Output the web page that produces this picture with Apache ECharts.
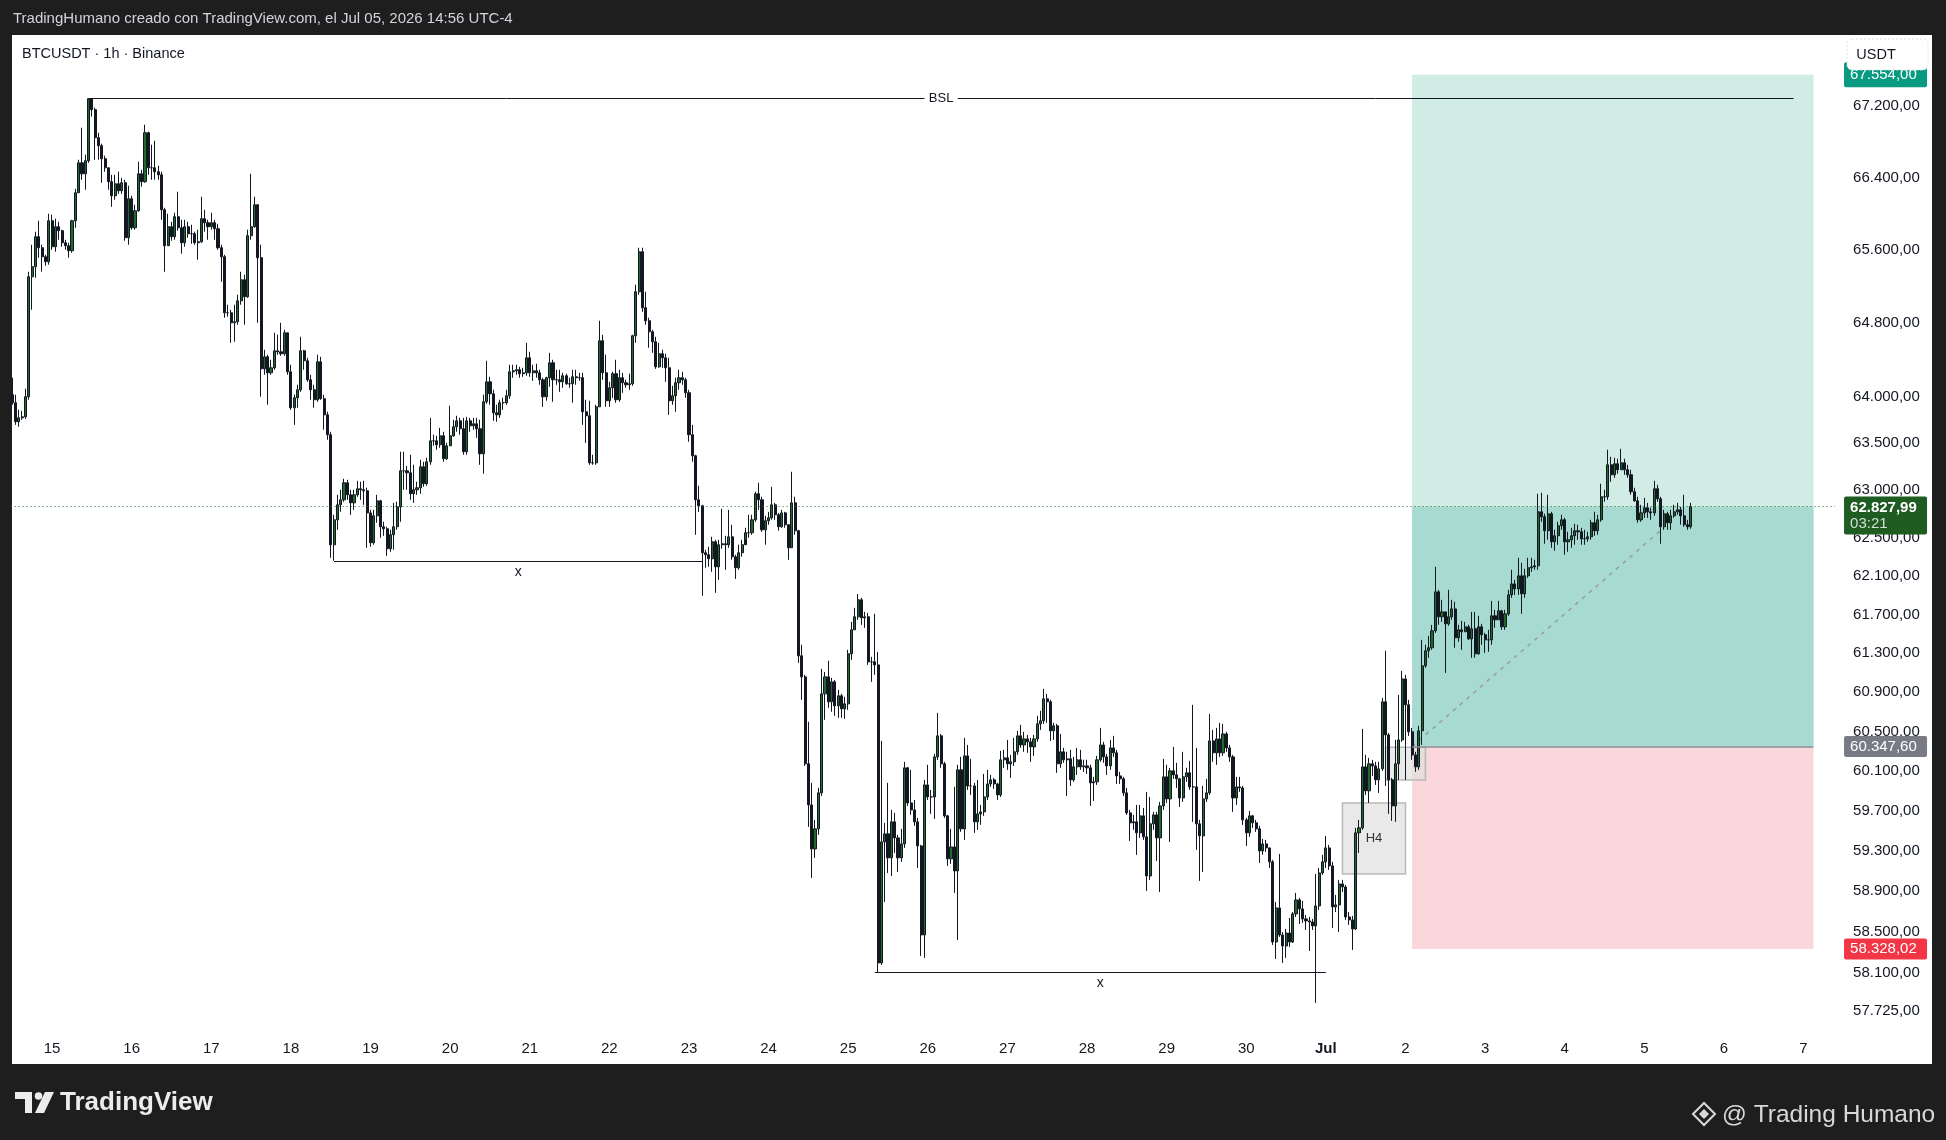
<!DOCTYPE html>
<html><head><meta charset="utf-8">
<script src="https://cdn.jsdelivr.net/npm/echarts@6/dist/echarts.min.js"></script>
<style>html,body{margin:0;padding:0;background:#1e1e1e;overflow:hidden}#c{width:1946px;height:1140px}</style>
</head><body><div id="c"></div><script>
// ---- data (BTCUSDT 1h, Binance) ----
const firstOpen = 64020;
const closeData = [
63934,63730,63772,63783,63998,65301,65411,65742,65620,65521,
65466,65918,65631,65852,65808,65675,65642,65587,65918,66229,
66563,66440,66586,67283,67159,66844,66754,66608,66507,66352,
66195,66329,66251,66340,65731,66162,65841,66029,66440,66352,
66900,66507,66507,66463,66429,66040,65642,65852,65742,65963,
65841,65675,65852,65775,65775,65675,65686,65941,65896,65852,
65896,65830,65620,65521,64907,64907,64798,64809,65038,65268,
65082,65753,65852,66096,65510,64299,64429,64256,64310,64494,
64483,64462,64689,64267,63880,63987,64073,64494,64386,64181,
64073,63966,64375,63977,63804,63591,62426,62689,62847,62900,
63080,62953,62868,62953,63017,63006,62995,62762,62448,62731,
62889,62616,62595,62385,62532,62616,62826,63207,63207,63186,
62964,63006,63027,63250,63070,63303,63526,63526,63484,63580,
63335,63473,63580,63676,63740,63655,63410,63740,63687,63708,
63655,63388,63944,64159,64030,63826,63804,63934,63934,64009,
64267,64278,64289,64246,64256,64418,64256,64278,64256,64181,
63998,64203,64364,64181,64181,64159,64224,64138,64138,64213,
64203,64203,63837,63794,63292,63292,63890,64603,64256,63955,
64095,64246,63966,64203,64149,64127,64138,64657,65137,65576,
64962,64820,64700,64592,64321,64462,64418,64310,63955,64009,
64149,64203,
64181,64041,63591,63367,62900,62837,62343,62322,
62280,62458,62196,62427,62437,62427,62510,62301,62186,62343,
62427,62553,62553,62689,62964,62900,62584,62679,62710,62847,
62742,62616,62762,62637,62395,62868,62574,61273,61057,60172,
59758,59318,59518,59879,60883,61057,60802,61006,60761,60863,
60730,60781,61294,61541,61676,61852,61665,61676,61211,61211,
61180,58193,59388,59468,59229,59588,59428,59229,59368,60131,
59778,59708,59588,59348,58467,59959,59838,59838,60242,60455,
60172,59648,59219,59338,59099,60111,59518,60252,59949,59949,
59588,59668,59688,59838,59969,60010,59969,59858,60212,60232,
60172,60192,60293,60455,
60363,60424,60394,60343,60424,60577,
60608,60832,60802,60506,60557,60172,60293,60212,60222,60010,
60141,60212,60141,60151,60131,59980,59990,60212,60363,60242,
60151,60333,60283,60050,60020,59879,59678,59578,59588,59478,
59648,59438,59049,59568,59658,59428,59748,60040,59818,60101,
60060,60020,59828,60040,60081,59939,59939,59568,59448,59818,
59879,60404,60283,60424,60283,60475,60333,60242,59828,59939,
59929,59608,59478,59648,59578,59518,59298,59368,59328,59189,
58398,58733,58467,58359,58486,58398,58674,58812,58723,58625,
58605,58595,58556,58753,59079,59189,59328,59149,58743,58763,
58970,58940,58644,58615,58526,
59478,59528,60141,59899,60172,
60151,60010,60121,60802,60465,60010,59748,60172,60414,61036,
60771,60496,60262,60141,60506,61170,61325,61356,61531,61935,
61676,61727,61603,61676,61758,61459,61541,61521,61572,61448,
61552,61294,61572,61490,61438,61438,61686,61645,61738,61572,
61707,61904,62018,61966,62102,61914,62102,62186,62196,62207,
62773,62721,62574,62752,62458,62521,62626,62689,62458,62479,
62521,62574,62563,62490,62490,62510,62658,62574,62689,62932,
62932,63271,63165,63282,63218,63292,63218,63165,62985,62889,
62689,62762,62815,62773,62762,63017,62911,62616,62752,62658,
62731,62773,62794,62731,62637,62616,62827.99];
const highData = [
64203,64020,63858,63847,64084,65356,65653,65797,65918,65653,
65543,65996,65985,65941,65907,65819,65708,65675,65929,66273,
66597,66956,66653,67290,67270,67182,66900,66776,66642,66507,
66429,66429,66463,66395,66374,66307,66195,66096,66575,66485,
66990,66912,66765,66810,66530,66463,66062,65996,65907,66007,
66240,65929,65929,65907,65874,65797,65819,66184,66040,65929,
66007,65929,65885,65653,65543,64995,64940,64995,65105,65356,
65323,65819,66440,66184,66096,65653,64505,64451,64397,64689,
64668,64798,64722,64689,64343,64020,64127,64646,64505,64418,
64235,64127,64451,64429,64020,63837,63623,62742,62953,63006,
63123,63112,63006,63006,63101,63091,63101,63028,62794,62794,
62953,62900,62668,62616,62584,62868,62879,63410,63410,63260,
63378,63271,63091,63324,63303,63346,63772,63591,63580,63665,
63623,63505,63901,63751,63794,63772,63772,63783,63772,63772,
63772,63751,64020,64386,64213,64073,63912,63966,63987,64073,
64343,64343,64343,64321,64310,64581,64483,64343,64354,64289,
64203,64213,64472,64397,64289,64289,64256,64246,64203,64289,
64289,64256,64256,63966,63955,63378,63912,64820,64668,64451,
64159,64267,64397,64289,64256,64181,64246,64668,65214,65620,
65620,65137,64853,64722,64646,64581,64505,64462,64418,64116,
64203,64289,
64267,64203,64073,63697,63378,63048,62847,62374,
62406,62510,62479,62479,62805,62521,62794,62637,62322,62427,
62479,62605,62742,62742,62985,63080,62932,62731,62773,63038,
62868,62762,62794,62773,62637,63197,62932,62584,61387,61078,
60598,59980,59608,59930,61139,61108,61222,61047,61026,60924,
60883,60853,61335,61624,61769,61914,61873,61727,61717,61263,
61707,61314,60404,59578,59980,59708,59678,59458,59518,60192,
60141,60111,59808,59628,59358,60010,60162,59909,60272,60689,
60475,60192,59658,59518,59939,60162,60242,60435,60363,60222,
59980,60010,59758,60070,60111,60060,60030,59980,60303,60313,
60414,60262,60435,60506,
60567,60496,60465,60435,60465,60659,
60710,60934,60883,60822,60587,60577,60475,60333,60293,60313,
60242,60333,60313,60212,60212,60162,60040,60252,60536,60394,
60272,60414,60455,60313,60091,60040,59930,59708,59658,59758,
59758,59728,59889,59838,59688,59688,59788,60222,60162,60131,
60343,60182,60030,60293,60131,60202,60771,60333,59608,59949,
60020,60679,60516,60536,60587,60577,60496,60363,60262,60040,
60040,59949,59628,59698,59658,59608,59548,59418,59408,59328,
59209,58792,59268,58496,58526,58634,58693,58881,58832,58802,
58664,58644,58625,59069,59129,59259,59448,59358,59189,58861,
59010,59010,58960,58693,58654,
59528,59608,60526,60262,60232,
60212,60192,60192,60842,61325,60485,60030,60414,60873,61119,
61078,60822,60536,60293,60557,61438,61387,61479,61593,62196,
61956,61852,61727,61956,61852,61831,61593,61634,61624,61593,
61727,61727,61686,61603,61510,61541,61841,61748,61841,61748,
61748,61956,62165,62060,62290,62238,62175,62290,62290,62269,
62964,62974,62752,62953,62773,62584,62668,62742,62710,62563,
62605,62647,62637,62605,62584,62563,62689,62773,62742,63070,
63006,63431,63356,63346,63335,63441,63335,63271,63218,63027,
62932,62847,62921,62868,62815,63101,63059,62932,62794,62773,
62794,62847,62868,62826,62953,62689,62868];
const lowData = [
63912,63697,63676,63751,63761,63966,64940,65290,65510,65356,
65422,65433,65598,65576,65708,65631,65598,65510,65565,65841,
66229,66374,66262,66563,67081,66597,66597,66340,66463,66262,
66073,66151,66217,66217,65697,65653,65819,65819,66018,66296,
66340,66429,66374,66374,66374,65929,65356,65642,65697,65708,
65808,65554,65631,65731,65664,65653,65488,65675,65797,65708,
65819,65708,65598,65246,64853,64864,64581,64592,64777,64995,
64777,65071,65708,65841,64798,63998,64235,63912,64235,64289,
64451,64440,64440,64235,63858,63697,63880,64051,64289,64159,
63966,63880,63944,63966,63644,63537,62290,62259,62584,62773,
62879,62900,62741,62794,62932,62900,62847,62395,62406,62427,
62658,62500,62521,62311,62353,62374,62584,62668,63006,63006,
62900,62868,62953,62964,63038,63048,63271,63473,63431,63452,
63303,63324,63537,63569,63623,63591,63378,63378,63623,63644,
63558,63271,63176,63923,63912,63740,63730,63772,63858,63912,
63977,64203,64235,64203,64213,64224,64213,64170,64203,64127,
63890,63955,64105,63944,64127,64051,64095,64127,64095,63934,
64127,64170,63697,63505,63271,63271,63271,63890,64181,63890,
63890,63987,63934,63944,64041,64095,64073,64116,64581,65105,
64918,64777,64527,64472,64299,64310,64310,64159,63804,63912,
63837,64073,
64127,63987,63516,63303,62532,62773,61894,62186,
62196,62144,61925,62060,62385,62165,62395,62269,62070,62165,
62301,62479,62500,62532,62668,62794,62563,62427,62637,62689,
62689,62574,62605,62605,62269,62395,62532,61201,60822,60151,
59538,59030,59229,59458,59848,60618,60740,60700,60659,60638,
60638,60628,60720,61232,61541,61645,61593,61562,61180,61006,
61078,58105,58173,58792,59079,59049,59278,59089,59189,59328,
59748,59658,59548,59129,58261,58242,59808,59668,59618,60212,
60131,59628,59149,59169,58881,58418,59488,59408,59909,59858,
59478,59508,59558,59648,59808,59939,59919,59808,59838,60131,
60111,60030,60151,60262,
60333,60293,60283,60192,60252,60394,
60516,60577,60587,60404,60414,60081,60131,60182,59848,59949,
59990,60060,60111,60091,60070,59748,59798,59959,60192,60182,
60060,60111,60242,59969,59969,59848,59658,59398,59508,59259,
59428,59408,58901,59010,59508,59199,58891,59708,59778,59388,
60020,59929,59738,59788,59990,59909,59588,59308,59000,59089,
59788,59858,60192,60162,60242,60252,60293,60192,59688,59758,
59889,59558,59348,59438,59528,59488,59179,59259,59288,59129,
58369,58232,58447,58193,58242,58349,58388,58644,58575,58585,
58516,58310,58516,57803,58713,59059,59129,59109,58536,58693,
58497,58891,58615,58566,58320,
58516,59278,59508,59858,59778,
60050,59959,59879,60101,59949,59668,59598,59588,60010,60394,
60010,60455,60212,60091,60111,60363,61150,61253,61335,61510,
61593,61624,61098,61583,61645,61356,61417,61335,61521,61438,
61253,61253,61284,61387,61304,61315,61387,61562,61645,61541,
61541,61686,61873,61904,61904,61707,61873,62081,62144,62165,
62165,62668,62437,62479,62395,62364,62427,62584,62322,62353,
62395,62427,62479,62427,62427,62458,62479,62521,62532,62668,
62879,62900,63091,63133,63176,63218,63165,63133,62953,62879,
62658,62668,62710,62710,62689,62731,62879,62437,62584,62584,
62584,62710,62742,62637,62616,62584,62595];
const dayLabels = ['15','16','17','18','19','20','21','22','23','24','25','26','27','28','29','30','Jul','2','3','4','5','6','7'];
const priceTicks = [67200,66400,65600,64800,64000,63500,63000,62500,62100,61700,61300,60900,60500,60100,59700,59300,58900,58500,58100,57725];
const lastPrice = 62827.99, entryPrice = 60347.60, stopPrice = 58328.02, targetPrice = 67554.00;
const countdown = '03:21';
const bslPrice = 67290, sweep1 = 62257, sweep2 = 58104;
const bslLeft = [23, 275], bslRight = [285, 537], bslLabelAt = 280;
const sweep1Range = [97, 208], sweep2Range = [260, 396];
const posRange = [422, 543];
const h4Range = [401, 420], h4Prices = [59777, 59069];
const entryZoneRange = [414, 426], entryZonePrices = [60340, 60009];
const trendEnd = [498, 62608];

// ---- build ----
const NCAT = 550;
const cats = [];
for (let i = 0; i < NCAT; i++) {
  const h = 12 + i; let d = 14 + Math.floor(h / 24); const hr = h % 24; let m = 'Jun';
  if (d > 30) { d -= 30; m = 'Jul'; }
  cats.push(m + ' ' + d + ' ' + String(hr).padStart(2, '0') + ':00');
}
const candles = closeData.map((c, i) => [i === 0 ? firstOpen : closeData[i - 1], c, lowData[i], highData[i]]);
function fmt(v) {
  const s = Number(v).toFixed(2).split('.');
  return s[0].replace(/\B(?=(\d{3})+(?!\d))/g, '.') + ',' + s[1];
}
const FF = '"Liberation Sans", Arial, sans-serif';
const dark = '#131722';
const clear = 'rgba(0,0,0,0)';
function badge(bg, pad) {
  return {show: true, position: 'end', distance: 9, formatter: p => fmt(p.value), backgroundColor: bg,
    color: '#ffffff', fontSize: 15, fontFamily: FF, padding: pad || [3, 6, 3, 6], width: 71, align: 'left', borderRadius: 2};
}
const solid = {color: dark, width: 1, type: 'solid'};
const chart = echarts.init(document.getElementById('c'), null, {renderer: 'canvas', width: 1946, height: 1140});
const option = {
  animation: false,
  backgroundColor: '#1e1e1e',
  textStyle: {fontFamily: FF},
  grid: {left: 10.64, top: 35, width: 1824.4, height: 995, containLabel: false, outerBoundsMode: 'none'},
  xAxis: {
    type: 'category', data: cats, boundaryGap: true,
    axisLine: {show: false}, axisTick: {show: false}, splitLine: {show: false},
    axisLabel: {
      interval: (idx) => (idx - 12) % 24 === 0,
      formatter: (v, idx) => { const t = dayLabels[(idx - 12) / 24]; return t === 'Jul' ? '{b|Jul}' : (t || ''); },
      color: dark, fontSize: 15, margin: 11, fontFamily: FF,
      rich: {b: {fontWeight: 'bold', fontSize: 15, color: dark, fontFamily: FF}}
    }
  },
  yAxis: {
    type: 'log', logBase: 10, min: 57541, max: 68007, position: 'right',
    axisLine: {show: false}, axisTick: {show: false}, splitLine: {show: false},
    axisLabel: {customValues: priceTicks, formatter: v => fmt(v), color: dark, fontSize: 15, margin: 18, fontFamily: FF}
  },
  series: [
    {
      type: 'line', data: [], z: 1, silent: true,
      markArea: {
        silent: true, label: {show: false},
        data: [
          [{coord: [posRange[0], entryPrice], itemStyle: {color: '#d1ebe5'}}, {coord: [posRange[1], targetPrice]}],
          [{coord: [posRange[0], entryPrice], itemStyle: {color: '#a7dad1'}}, {coord: [posRange[1], lastPrice]}],
          [{coord: [posRange[0], stopPrice], itemStyle: {color: '#fad7da'}}, {coord: [posRange[1], entryPrice]}],
          [{coord: [h4Range[0], h4Prices[0]], itemStyle: {color: '#e9e9e9', borderColor: '#b9b9b9', borderWidth: 1.5},
            label: {show: true, position: 'inside', formatter: 'H4', color: '#333', fontSize: 13, fontFamily: FF}},
           {coord: [h4Range[1], h4Prices[1]]}],
          [{coord: [entryZoneRange[0], entryZonePrices[0]], itemStyle: {color: 'rgba(222,222,222,0.65)', borderColor: '#b9b9b9', borderWidth: 1.5}},
           {coord: [entryZoneRange[1], entryZonePrices[1]]}]
        ]
      }
    },
    {
      type: 'line', z: 2, silent: true, symbol: 'none',
      data: [[posRange[0], entryPrice], [trendEnd[0], trendEnd[1]]],
      lineStyle: {type: [4, 5], color: '#9a9ca3', width: 1.5}
    },
    {
      type: 'candlestick', name: 'BTCUSDT', data: candles, z: 3, barWidth: 2.6,
      itemStyle: {color: '#1f6a27', color0: dark, borderColor: dark, borderColor0: dark, borderWidth: 1}
    },
    {
      type: 'line', data: [], z: 4, silent: true,
      markPoint: {
        silent: true, symbol: 'rect', symbolSize: 1, itemStyle: {color: clear},
        label: {show: true, position: 'inside', formatter: 'BSL', color: dark, fontSize: 13, fontFamily: FF},
        data: [{coord: [bslLabelAt, bslPrice]}]
      },
      markLine: {
        silent: true, symbol: 'none', animation: false,
        data: [
          [{coord: [bslLeft[0], bslPrice], lineStyle: solid, label: {show: false}}, {coord: [bslLeft[1], bslPrice]}],
          [{coord: [bslRight[0], bslPrice], lineStyle: solid, label: {show: false}}, {coord: [bslRight[1], bslPrice]}],
          [{coord: [sweep1Range[0], sweep1], lineStyle: solid,
            label: {show: true, position: 'insideMiddleBottom', formatter: 'x', color: dark, fontSize: 14, fontFamily: FF, distance: 4}},
           {coord: [sweep1Range[1], sweep1]}],
          [{coord: [sweep2Range[0], sweep2], lineStyle: solid,
            label: {show: true, position: 'insideMiddleBottom', formatter: 'x', color: dark, fontSize: 14, fontFamily: FF, distance: 4}},
           {coord: [sweep2Range[1], sweep2]}],
          [{coord: [posRange[0], entryPrice], lineStyle: {color: '#8a8d96', width: 1.5, type: 'solid'}, label: {show: false}},
           {coord: [posRange[1], entryPrice]}],
          {yAxis: targetPrice, lineStyle: {color: clear, width: 1}, label: badge('#089981', [5, 6, 5, 6])},
          {yAxis: entryPrice, lineStyle: {color: clear, width: 1}, label: badge('#787b86')},
          {yAxis: stopPrice, lineStyle: {color: clear, width: 1}, label: badge('#f23645')},
          {yAxis: lastPrice, lineStyle: {color: '#1f6a27', type: [1, 3], width: 1},
            label: {show: true, position: 'end', distance: 9, offset: [0, 9], backgroundColor: '#1e5c22', padding: [3, 6, 3, 6], width: 71, align: 'left', borderRadius: 2,
              formatter: () => '{p|' + fmt(lastPrice) + '}\n{t|' + countdown + '}',
              rich: {p: {color: '#ffffff', fontSize: 15, fontWeight: 'bold', lineHeight: 16, fontFamily: FF},
                     t: {color: '#d6dfd6', fontSize: 15, lineHeight: 16, fontFamily: FF}}}}
        ]
      }
    }
  ],
  graphic: [
    {type: 'rect', z: -10, silent: true, shape: {x: 12, y: 35, width: 1920, height: 1029}, style: {fill: '#ffffff'}},
    {type: 'text', z: 10, silent: true, x: 13, y: 19, style: {text: 'TradingHumano creado con TradingView.com, el Jul 05, 2026 14:56 UTC-4', fill: '#d1d4dc', font: '15px ' + FF, verticalAlign: 'middle'}},
    {type: 'text', z: 10, silent: true, x: 22, y: 54, style: {text: 'BTCUSDT · 1h · Binance', fill: dark, font: '14.5px ' + FF, verticalAlign: 'middle'}},
    {type: 'rect', z: 100, silent: true, shape: {x: 1847, y: 39, width: 81, height: 31, r: 5}, style: {fill: '#ffffff', stroke: '#dfe1e6', lineWidth: 1, lineDash: [2, 2]}},
    {type: 'text', z: 101, silent: true, x: 1876, y: 55, style: {text: 'USDT', fill: dark, font: '14.5px ' + FF, align: 'center', verticalAlign: 'middle'}},
    {type: 'polygon', z: 10, silent: true, shape: {points: [[15,1092],[32,1092],[32,1113],[25,1113],[25,1099],[15,1099]]}, style: {fill: '#ececec'}},
    {type: 'circle', z: 10, silent: true, shape: {cx: 38.5, cy: 1096, r: 3.8}, style: {fill: '#ececec'}},
    {type: 'polygon', z: 10, silent: true, shape: {points: [[45,1092],[54,1092],[44,1113],[35,1113]]}, style: {fill: '#ececec'}},
    {type: 'text', z: 10, silent: true, x: 60, y: 1103, style: {text: 'TradingView', fill: '#ececec', font: 'bold 26px ' + FF, verticalAlign: 'middle'}},
    {type: 'polygon', z: 10, silent: true, shape: {points: [[1704,1103],[1715,1114],[1704,1125],[1693,1114]]}, style: {fill: 'none', stroke: '#d9d9d9', lineWidth: 2}},
    {type: 'polygon', z: 10, silent: true, shape: {points: [[1704,1109],[1709,1114],[1704,1119],[1699,1114]]}, style: {fill: '#d9d9d9'}},
    {type: 'text', z: 10, silent: true, x: 1722, y: 1115, style: {text: '@ Trading Humano', fill: '#d9d9d9', font: '24.5px ' + FF, verticalAlign: 'middle'}}
  ]
};
chart.setOption(option);
</script></body></html>
